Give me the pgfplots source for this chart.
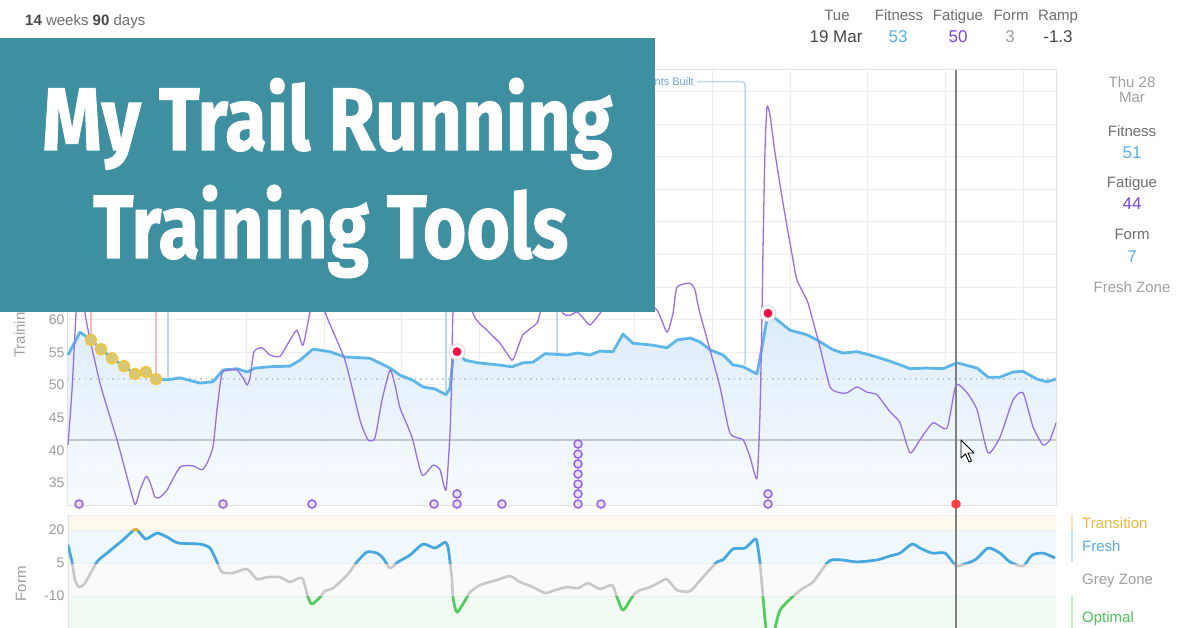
\documentclass[border=0pt]{standalone}
\usepackage{fontspec}
\setmainfont{Liberation Sans}
\newfontfamily\bannerfont[FakeBold=1.2]{Fira Sans}
\usepackage{graphicx}
\usepackage{pgfplots}
\pgfplotsset{compat=1.18}
\usepackage{pgfplotstable}

\definecolor{fitblue}{RGB}{94,182,232}
\definecolor{fatpurple}{RGB}{152,112,228}
\definecolor{formblue}{RGB}{66,168,226}
\definecolor{formgrey}{RGB}{200,200,200}
\definecolor{formgreen}{RGB}{78,206,92}
\definecolor{formorange}{RGB}{240,176,40}
\definecolor{bannerc}{RGB}{62,143,160}
\definecolor{bannerdark}{RGB}{45,110,124}
\definecolor{gridc}{RGB}{237,237,237}
\definecolor{framec}{RGB}{225,225,225}
\definecolor{tickc}{RGB}{155,155,155}
\definecolor{darktext}{RGB}{70,70,70}
\definecolor{midtext}{RGB}{110,110,110}
\definecolor{lighttext}{RGB}{160,160,160}
\definecolor{valblue}{RGB}{88,176,232}
\definecolor{valpurple}{RGB}{120,70,220}
\definecolor{evblue}{RGB}{188,214,238}
\definecolor{evtext}{RGB}{110,160,210}
\definecolor{evred}{RGB}{248,186,186}
\definecolor{wkpurple}{RGB}{146,100,226}
\definecolor{wkfill}{RGB}{232,222,250}
\definecolor{yeldot}{RGB}{214,200,120}
\definecolor{yelring}{RGB}{240,196,60}
\definecolor{reddot}{RGB}{240,16,72}
\definecolor{bandT}{RGB}{253,249,238}
\definecolor{bandF}{RGB}{240,247,253}
\definecolor{bandG}{RGB}{250,250,250}
\definecolor{bandO}{RGB}{242,251,242}
\definecolor{legT}{RGB}{232,184,64}
\definecolor{legF}{RGB}{90,174,232}
\definecolor{legG}{RGB}{160,160,160}
\definecolor{legO}{RGB}{76,196,92}
\definecolor{barT}{RGB}{247,232,180}
\definecolor{barF}{RGB}{200,228,248}
\definecolor{barO}{RGB}{200,240,200}
\definecolor{shadetop}{RGB}{216,234,250}
\definecolor{shadebot}{RGB}{247,251,254}

\newcommand\fs[1]{\fontsize{#1}{#1}\selectfont}

% x = horizontal position of each day on the chart (68 ... 1056)
\pgfplotstableread{
x v
68 54.6
80 58.1
91 56.9
101 55.5
112 54.1
124 52.9
135 51.7
146 52.0
156 50.9
168 50.8
180 51.1
200 50.3
213 50.5
223 52.3
237 52.5
247 52.0
255 52.6
270 52.8
290 52.9
300 53.8
313 55.5
330 55.1
345 54.3
370 54.1
390 52.6
400 51.5
412 50.8
423 49.7
435 49.4
446 48.5
450 49.5
453 54.1
457 55.1
465 53.8
478 53.4
497 53.1
512 52.8
523 53.4
533 53.5
545 54.8
567 54.6
578 54.9
590 54.6
600 55.2
613 55.1
623 57.8
633 56.4
653 56.1
667 55.7
677 56.9
690 57.2
700 56.6
710 55.4
723 54.6
733 53.1
743 52.8
757 51.7
762 55.8
768 61.0
777 60.0
790 58.4
807 57.7
817 56.9
833 55.4
843 54.9
857 55.1
870 54.6
887 53.8
900 53.1
910 52.5
927 52.6
943 52.5
957 53.4
977 52.6
988 51.2
1000 51.2
1013 52.0
1023 52.1
1037 50.9
1047 50.5
1056 50.9
}\fitness

\pgfplotstableread{
x v
68 40.8
72 49.2
76 61.0
80 72
85 61.0
100 50.3
117 41.6
127 35.9
135 31.7
140 33.9
146 36.0
150 35.1
155 32.8
160 32.8
167 33.9
180 37.4
193 37.6
202 37.0
207 38.0
213 40.5
217 46.2
222 51.8
230 52.3
237 52.3
243 51.1
247 50.0
250 51.1
254 55.1
262 55.7
270 54.6
280 54.4
290 56.9
297 58.4
303 56.1
310 61.2
318 67
325 61.2
345 53.8
360 44.6
368 41.6
375 41.9
382 47.7
390 52.3
395 50.0
400 46.5
412 42.0
422 36.2
433 37.7
440 37.0
446 33.9
450 42.6
452 52.8
453 61.0
460 72
473 61.0
487 58.4
500 56.4
512 53.8
517 55.4
523 57.7
537 59.5
540 61.0
550 65
563 61.0
570 60.7
577 61.2
583 60.3
590 59.2
600 61.0
607 62.3
613 61.5
620 63
640 63
657 61.5
667 58.1
673 61.0
677 65.0
690 65.6
695 64.6
697 63.0
700 61.0
710 55.4
720 49.7
730 42.6
743 41.6
750 39.0
757 35.7
760 45.7
762 61.0
763 70.7
765 86.0
767 92.6
770 91.4
775 85.6
783 77.9
793 69.2
797 66.1
807 63.0
810 61.5
820 55.8
830 49.7
840 48.8
847 48.8
857 49.7
867 48.9
877 48.5
890 45.9
900 44.2
910 39.6
920 41.6
933 44.2
947 43.4
956 50.0
967 48.8
977 46.2
988 39.6
1000 42.0
1013 47.7
1023 48.8
1033 43.6
1043 40.8
1050 41.6
1056 44.2
}\fatigue

\pgfplotstableread{
x f
68 13.2
72 5.5
75 -2.7
79 -5.9
85 -4.1
97 5.5
107 9.5
123 15.5
135 20.3
140 18.6
146 15.9
157 18.6
167 16.8
178 14.1
200 13.6
210 11.8
217 5.5
222 0.9
233 0.5
247 2.3
257 -2.3
267 -1.4
280 -1.4
290 -3.6
302 -1.8
308 -10.5
312 -13.6
320 -10.5
325 -7.7
333 -6.4
347 -0.5
357 5.5
367 10
377 9.5
383 7.3
390 2.7
398 5.5
410 8.6
423 13.6
435 11.8
445 14.5
448 12.3
450 5.5
452 -2.7
453 -10.5
457 -17.3
467 -10.5
470 -8.2
480 -5
497 -2.7
510 -0.9
520 -3.6
533 -5.9
545 -8.6
555 -7.3
567 -5.9
578 -6.4
588 -4.1
600 -6.8
612 -5
617 -10.5
623 -16.4
632 -10.5
638 -7.7
650 -5.9
660 -3.6
667 -2.3
677 -7.3
690 -7.7
703 -1.4
717 5.5
723 6.4
733 11.4
745 11.8
755 15.9
757 14.5
760 5
763 -10.5
766 -24.5
770 -30
775 -24.5
780 -16.4
792 -10.5
803 -6.4
813 -3.6
827 5
832 6.4
842 6.4
857 5.5
877 6.4
890 8.2
900 9.5
912 13.6
920 11.8
932 9.5
945 9.5
955 4.1
958 3.6
975 6.4
988 11.8
1000 9.5
1010 5.5
1023 3.6
1032 8.6
1043 9.5
1055 7.3
}\form

\pgfplotsset{
  overlayaxis/.style={scale only axis, width=988pt, xmin=68, xmax=1056,
    hide axis, clip=true, anchor=south west},
  formline/.style={line width=2.6pt, smooth, tension=0.4, line join=round},
}

\begin{document}
\begin{tikzpicture}
\useasboundingbox (0,0) rectangle (1200pt,-628pt);
\fill[white] (0,0) rectangle (1200pt,-628pt);

% ---------- main training load chart ----------
\begin{axis}[
  at={(68pt,-505pt)}, anchor=south west,
  scale only axis, width=988pt, height=435pt,
  xmin=68, xmax=1056, ymin=31.6, ymax=98.3,
  xtick={91,168.7,246.3,324,401.7,479.3,557,634.7,712.3,790,867.7,945.3,1023},
  xticklabel=\empty,
  ytick={35,40,...,95},
  yticklabels={35,40,45,50,55,60,,,,,,,},
  grid=major, major grid style={draw=gridc, line width=1pt},
  tick style={draw=none},
  axis line style={draw=framec, line width=1pt},
  yticklabel style={font=\fs{14}, text=tickc},
  /pgf/number format/assume math mode=true,
  clip=false,
]
\addplot[draw=none, top color=shadetop, bottom color=shadebot, fill opacity=0.85]
  table[x=x, y=v]{\fitness} \closedcycle;
% reference lines
\draw[black!22, line width=1.4pt, dash pattern=on 1.5pt off 4pt] (axis cs:68,50.9) -- (axis cs:1056,50.9);
\draw[black!22, line width=1.6pt] (axis cs:68,41.6) -- (axis cs:1056,41.6);
% event markers
\draw[evred, line width=1.5pt] (axis cs:91,98.3) -- (axis cs:91,56.9);
\draw[evred, line width=1.5pt] (axis cs:156,98.3) -- (axis cs:156,50.9);
\draw[evblue, line width=1.5pt] (axis cs:168,98.3) -- (axis cs:168,50.8);
\draw[evblue, line width=1.5pt] (axis cs:446,98.3) -- (axis cs:446,48.5);
\draw[evblue, line width=1.5pt] (axis cs:557,98.3) -- (axis cs:557,54.6);
\draw[evblue, line width=1.5pt, rounded corners=3pt] (axis cs:697,96.5) -- (axis cs:745,96.5) -- (axis cs:745,53.0);
% fitness line
\addplot[fitblue, line width=2.8pt, line join=round] table[x=x, y=v]{\fitness};
% fatigue line
\addplot[fatpurple, line width=1.3pt, smooth, tension=0.35] table[x=x, y=v]{\fatigue};
% yellow dots
\addplot[only marks, mark=*, mark size=5.5pt,
  mark options={fill=yeldot, draw=yelring, line width=1.6pt}]
  coordinates {(91,56.9)(101,55.5)(112,54.1)(124,52.9)(135,51.7)(146,52.0)(156,50.9)};
% red highlighted points
\addplot[only marks, mark=*, mark size=8pt, mark options={fill=white, draw=black!12, line width=1pt}]
  coordinates {(457,55.1)(768,61.0)};
\addplot[only marks, mark=*, mark size=4.2pt, mark options={fill=reddot, draw=reddot}]
  coordinates {(457,55.1)(768,61.0)};
% workouts
\addplot[only marks, mark=*, mark size=4pt,
  mark options={fill=wkfill, draw=wkpurple, line width=1.5pt}]
  coordinates {(79,31.75)(223,31.75)(312,31.75)(434,31.75)(457,31.75)(457,33.3)
  (502,31.75)(578,31.75)(578,33.3)(578,34.8)(578,36.35)(578,37.9)(578,39.4)(578,40.95)
  (601,31.75)(768,31.75)(768,33.3)};
\end{axis}

% ---------- form chart ----------
\begin{axis}[
  at={(68pt,-628pt)}, anchor=south west,
  scale only axis, width=988pt, height=112.9pt,
  xmin=68, xmax=1056, ymin=-24.5, ymax=26.8,
  xtick=\empty, ytick={-10,5,20},
  axis line style={draw=none}, tick style={draw=none},
  yticklabel style={font=\fs{14}, text=tickc},
  /pgf/number format/assume math mode=true,
  clip=true,
]
\fill[bandT] (axis cs:68,20) rectangle (axis cs:1056,26.8);
\fill[bandF] (axis cs:68,5) rectangle (axis cs:1056,20);
\fill[bandG] (axis cs:68,-10) rectangle (axis cs:1056,5);
\fill[bandO] (axis cs:68,-24.5) rectangle (axis cs:1056,-10);
\draw[gridc, line width=1pt] (axis cs:68,20) -- (axis cs:1056,20);
\draw[gridc, line width=1pt] (axis cs:68,5) -- (axis cs:1056,5);
\draw[gridc, line width=1pt] (axis cs:68,-10) -- (axis cs:1056,-10);
\draw[gridc, line width=1pt] (axis cs:68,26.7) -- (axis cs:1056,26.7);
\draw[framec, line width=1.5pt] (axis cs:68,-24.5) -- (axis cs:68,26.8);
\addplot[formgrey, formline] table[x=x, y=f]{\form};
\end{axis}
\begin{axis}[overlayaxis, at={(68pt,-563pt)}, height=47.96pt, ymin=5, ymax=26.8]
\addplot[formblue, formline] table[x=x, y=f]{\form};
\end{axis}
\begin{axis}[overlayaxis, at={(68pt,-628pt)}, height=31.9pt, ymin=-24.5, ymax=-10]
\addplot[formgreen, formline] table[x=x, y=f]{\form};
\end{axis}
\begin{axis}[overlayaxis, at={(68pt,-530pt)}, height=14.96pt, ymin=20, ymax=26.8]
\addplot[formorange, formline] table[x=x, y=f]{\form};
\end{axis}

\begin{scope}[x=1pt, y=-1pt]
% cursor line
\draw[black!50, line width=2pt] (956,70) -- (956,628);
\end{scope}

% red dot at cursor (on the main chart scale)
\begin{axis}[
  at={(68pt,-505pt)}, anchor=south west,
  scale only axis, width=988pt, height=435pt,
  xmin=68, xmax=1056, ymin=31.6, ymax=98.3, hide axis, clip=false]
\addplot[only marks, mark=*, mark size=4.5pt, mark options={fill=red!75, draw=red!75}]
  coordinates {(956,31.75)};
\end{axis}

\begin{scope}[x=1pt, y=-1pt]
% mouse pointer
\draw[black, line width=0.9pt, fill=white, line join=round]
  (961,440) -- (961,458) -- (965.5,454) -- (969,462) -- (971.5,461) -- (968,453) -- (974,453) -- cycle;

% event label
\node[anchor=base east, inner sep=0, font=\fs{11}, text=evtext] at (694,86) {Points Built};

% axis titles
\node[rotate=90, anchor=west, inner sep=0, font=\fs{15}, text=lighttext] at (21,358) {Training Load};
\node[rotate=90, inner sep=0, font=\fs{15}, text=lighttext] at (21,584) {Form};

% header left
\node[anchor=base west, inner sep=0, font=\fs{15}] at (25,26)
  {\textcolor{darktext}{\bfseries 14} \textcolor{midtext}{weeks} \textcolor{darktext}{\bfseries 90} \textcolor{midtext}{days}};

% header right
\node[anchor=base, inner sep=0, font=\fs{15}, text=midtext] at (837,21) {Tue};
\node[anchor=base, inner sep=0, font=\fs{15}, text=midtext] at (899,21) {Fitness};
\node[anchor=base, inner sep=0, font=\fs{15}, text=midtext] at (958,21) {Fatigue};
\node[anchor=base, inner sep=0, font=\fs{15}, text=midtext] at (1011,21) {Form};
\node[anchor=base, inner sep=0, font=\fs{15}, text=midtext] at (1058,21) {Ramp};
\node[anchor=base, inner sep=0, font=\fs{17}, text=darktext] at (836,43) {19 Mar};
\node[anchor=base, inner sep=0, font=\fs{17}, text=valblue] at (898,43) {53};
\node[anchor=base, inner sep=0, font=\fs{17}, text=valpurple] at (958,43) {50};
\node[anchor=base, inner sep=0, font=\fs{17}, text=lighttext] at (1010,43) {3};
\node[anchor=base, inner sep=0, font=\fs{17}, text=darktext] at (1058,43) {-1.3};

% right panel
\node[anchor=base, inner sep=0, font=\fs{15}, text=lighttext] at (1132,88) {Thu 28};
\node[anchor=base, inner sep=0, font=\fs{15}, text=lighttext] at (1132,103) {Mar};
\node[anchor=base, inner sep=0, font=\fs{15}, text=midtext] at (1132,137) {Fitness};
\node[anchor=base, inner sep=0, font=\fs{17}, text=valblue] at (1132,159) {51};
\node[anchor=base, inner sep=0, font=\fs{15}, text=midtext] at (1132,188) {Fatigue};
\node[anchor=base, inner sep=0, font=\fs{17}, text=valpurple] at (1132,210) {44};
\node[anchor=base, inner sep=0, font=\fs{15}, text=midtext] at (1132,240) {Form};
\node[anchor=base, inner sep=0, font=\fs{17}, text=valblue] at (1132,263) {7};
\node[anchor=base, inner sep=0, font=\fs{15}, text=lighttext] at (1132,293) {Fresh Zone};

% zone legend
\draw[barT, line width=2pt] (1072,515) -- (1072,530);
\draw[barF, line width=2pt] (1072,530) -- (1072,562);
\draw[barO, line width=2pt] (1072,596) -- (1072,628);
\node[anchor=base west, inner sep=0, font=\fs{15}, text=legT] at (1082,528) {Transition};
\node[anchor=base west, inner sep=0, font=\fs{15}, text=legF] at (1082,551) {Fresh};
\node[anchor=base west, inner sep=0, font=\fs{15}, text=legG] at (1082,584) {Grey Zone};
\node[anchor=base west, inner sep=0, font=\fs{15}, text=legO] at (1082,622) {Optimal};

% banner
\fill[bannerc] (0,38) rectangle (655,312);
\node[anchor=base west, inner sep=0, text=white] at (42,150)
  {\resizebox{570pt}{72pt}{\bannerfont\bfseries My Trail Running}};
\node[anchor=base west, inner sep=0, text=white] at (93,258)
  {\resizebox{475pt}{73pt}{\bannerfont\bfseries Training Tools}};
\end{scope}
\end{tikzpicture}
\end{document}
